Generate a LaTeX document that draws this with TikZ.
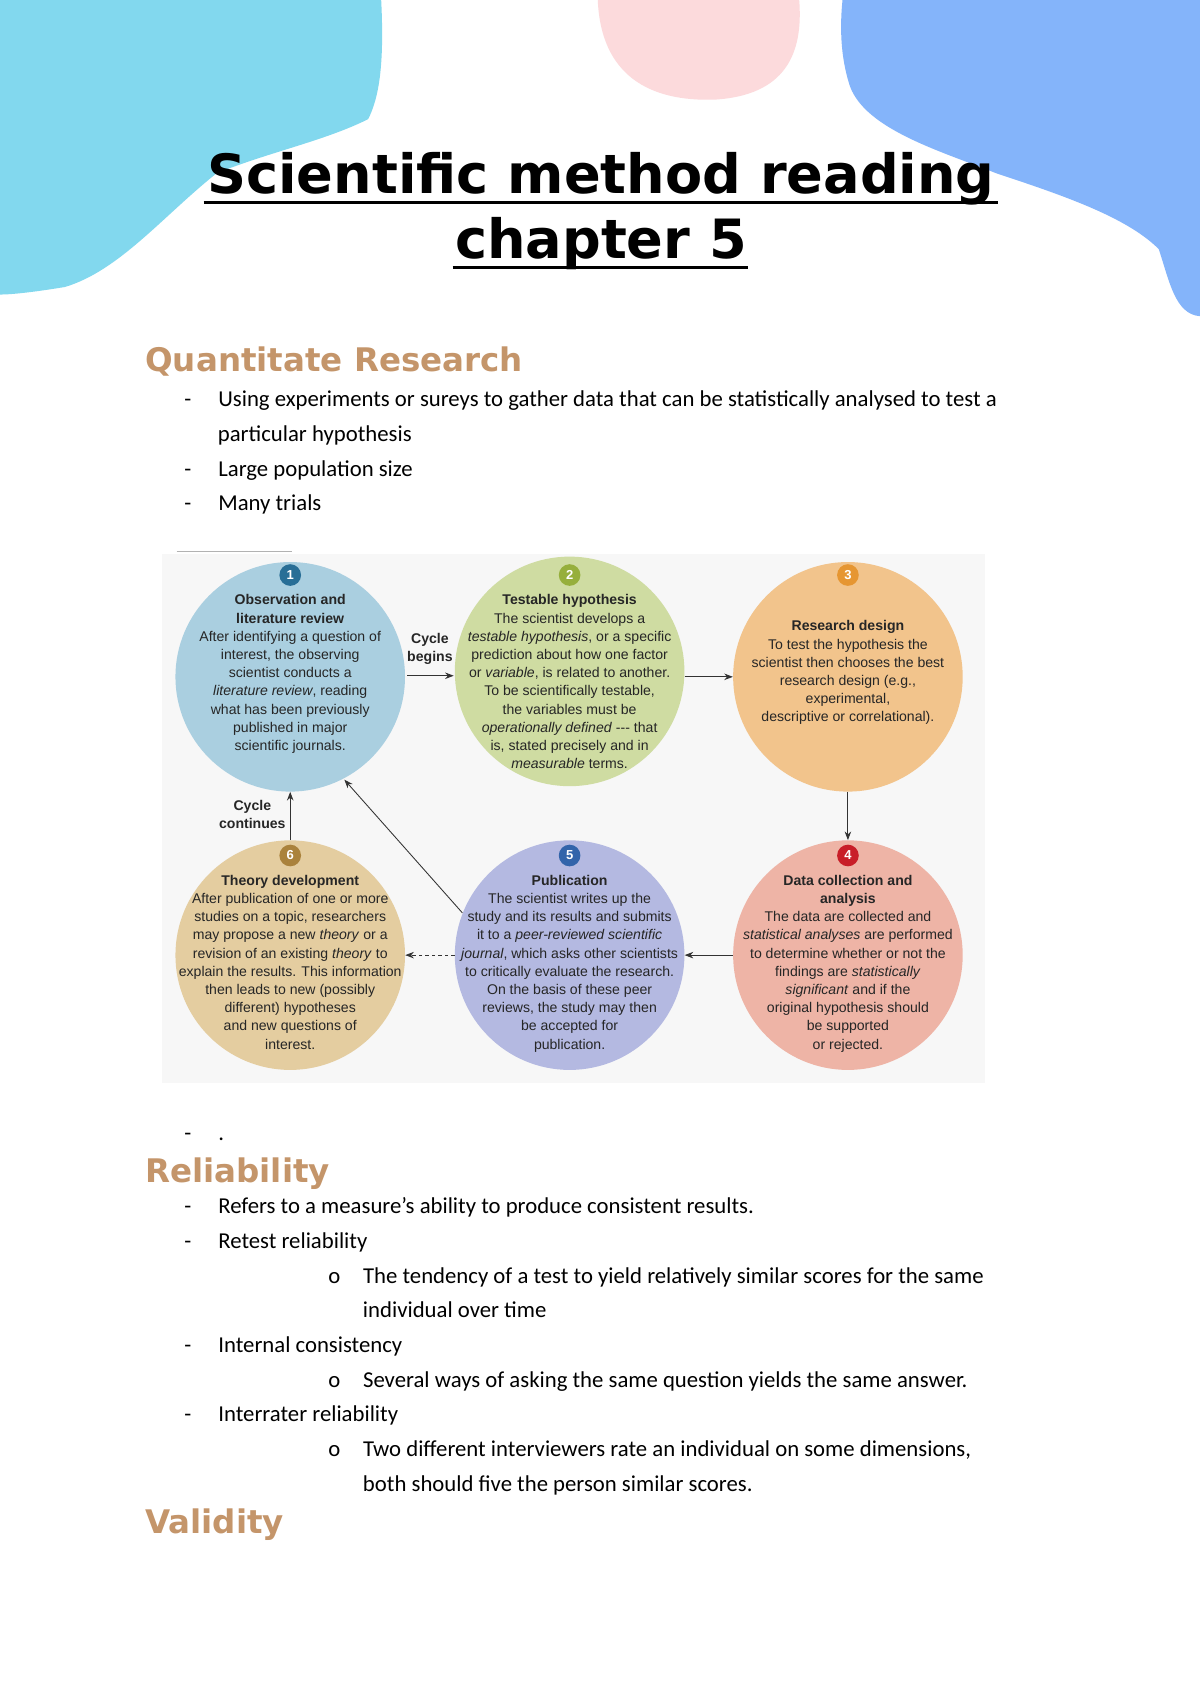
\documentclass[tikz,border=0pt]{standalone}
\usepackage{fontspec}
\setmainfont{Carlito}
\newfontfamily\hd{DejaVu Sans}
\newfontfamily\ar{Liberation Sans}
\usetikzlibrary{arrows.meta}
\definecolor{hcol}{HTML}{C4956A}
\definecolor{cA}{RGB}{170,207,224}
\definecolor{cB}{RGB}{207,220,162}
\definecolor{cC}{RGB}{242,196,140}
\definecolor{cF}{RGB}{228,205,160}
\definecolor{cE}{RGB}{180,185,225}
\definecolor{cD}{RGB}{238,180,166}
\definecolor{nA}{RGB}{40,110,150}
\definecolor{nB}{RGB}{150,175,60}
\definecolor{nC}{RGB}{230,150,50}
\definecolor{nD}{RGB}{200,30,40}
\definecolor{nE}{RGB}{50,100,170}
\definecolor{nF}{RGB}{170,130,60}
\definecolor{blobA}{RGB}{130,216,238}
\definecolor{blobB}{RGB}{252,218,220}
\definecolor{blobC}{RGB}{132,180,250}
\newcommand{\ulx}[1]{\underline{#1}}
\tikzset{
 circ/.style={circle,minimum size=212pt,inner sep=0pt},
 ctext/.style={align=center,font=\ar\fontsize{13}{16.8}\selectfont,text=black!85,inner sep=0pt},
 num/.style={circle,fill=#1,text=white,font=\ar\bfseries\fontsize{12}{12}\selectfont,minimum size=20pt,inner sep=0pt},
 body/.style={anchor=west,font=\fontsize{21}{32}\selectfont,align=left,inner sep=0pt},
 head/.style={anchor=west,font=\hd\bfseries\fontsize{30}{30}\selectfont,text=hcol,inner sep=0pt},
 arr/.style={-{Stealth[length=8pt]},thick,black!80}
}
\begin{document}
\begin{tikzpicture}[x=1pt,y=-1pt]
\useasboundingbox (0,0) rectangle (1108,1568);
\fill[white] (0,0) rectangle (1108,1568);
% blobs
\fill[blobA] (0,0) -- (352,0) .. controls (355,60) and (350,90) .. (340,110) .. controls (300,130) and (250,140) .. (200,160) .. controls (150,200) and (110,250) .. (60,265) .. controls (30,270) and (10,272) .. (0,272) -- cycle;
\fill[blobB] (552,0) -- (738,0) .. controls (742,50) and (725,88) .. (660,92) .. controls (600,94) and (555,70) .. (552,0) -- cycle;
\fill[blobC] (778,0) -- (1108,0) -- (1108,292) .. controls (1085,290) and (1080,260) .. (1070,230) .. controls (1040,200) and (980,180) .. (920,160) .. controls (870,140) and (800,120) .. (785,80) .. controls (775,50) and (776,20) .. (778,0) -- cycle;
% title
\node[font=\hd\bfseries\fontsize{50}{60}\selectfont,align=center,inner sep=0pt] (title) at (555,195) {Scientific method reading\\chapter 5};
\coordinate (u1) at (188,187); \coordinate (u2) at (922,187);
\coordinate (u3) at (418,247); \coordinate (u4) at (691,247);
\draw[line width=2.5pt] (u1) -- (u2) (u3) -- (u4);
\node[head] (h1) at (134,334) {Quantitate Research};
\node[body] (b1) at (170,418) {-\hspace{25pt}Using experiments or sureys to gather data that can be statistically analysed to test a\\\hspace{31pt}particular hypothesis\\-\hspace{25pt}Large population size\\-\hspace{25pt}Many trials};
\draw[gray!60] (163,509) -- (270,509);
% diagram
\fill[black!3] (150,512) rectangle (910,1000);
\node[circ,fill=cA] (c1) at (268,625) {};
\node[circ,fill=cB] (c2) at (526,620) {};
\node[circ,fill=cC] (c3) at (783,625) {};
\node[circ,fill=cF] (c6) at (268,882) {};
\node[circ,fill=cE] (c5) at (526,882) {};
\node[circ,fill=cD] (c4) at (783,882) {};
\node[num=nA] (n1) at (268,531) {1};
\node[num=nB] (n2) at (526,531) {2};
\node[num=nC] (n3) at (783,531) {3};
\node[num=nD] (n4) at (783,790) {4};
\node[num=nE] (n5) at (526,790) {5};
\node[num=nF] (n6) at (268,790) {6};
\node[ctext,anchor=north] (t1) at (268,549) {\textbf{Observation and}\\\textbf{literature review}\\After identifying a question of\\interest, the observing\\scientist conducts a\\\textit{literature review}, reading\\what has been previously\\published in major\\scientific journals.};
\node[ctext,anchor=north] (t2) at (526,549) {\textbf{Testable hypothesis}\\The scientist develops a\\\textit{testable hypothesis}, or a specific\\prediction about how one factor\\or \textit{variable}, is related to another.\\To be scientifically testable,\\the variables must be\\\textit{operationally defined} --- that\\is, stated precisely and in\\\textit{measurable} terms.};
\node[ctext,anchor=north] (t3) at (783,573) {\textbf{Research design}\\To test the hypothesis the\\scientist then chooses the best\\research design (e.g.,\\experimental,\\descriptive or correlational).};
\node[ctext,anchor=north] (t6) at (268,808) {\textbf{Theory development}\\After publication of one or more\\studies on a topic, researchers\\may propose a new \textit{theory} or a\\revision of an existing \textit{theory} to\\explain the results. This information\\then leads to new (possibly\\different) hypotheses\\and new questions of\\interest.};
\node[ctext,anchor=north] (t5) at (526,808) {\textbf{Publication}\\The scientist writes up the\\study and its results and submits\\it to a \textit{peer-reviewed scientific}\\\textit{journal}, which asks other scientists\\to critically evaluate the research.\\On the basis of these peer\\reviews, the study may then\\be accepted for\\publication.};
\node[ctext,anchor=north] (t4) at (783,808) {\textbf{Data collection and}\\\textbf{analysis}\\The data are collected and\\\textit{statistical analyses} are performed\\to determine whether or not the\\findings are \textit{statistically}\\\textit{significant} and if the\\original hypothesis should\\be supported\\or rejected.};
\node[ctext,font=\ar\bfseries\fontsize{13}{16.8}\selectfont] (cb) at (397,599) {Cycle\\begins};
\node[ctext,font=\ar\bfseries\fontsize{13}{16.8}\selectfont] (cc) at (233,752) {Cycle\\continues};
\coordinate (a1) at (376,624); \coordinate (a2) at (419,624);
\draw[arr] (a1) -- (a2);
\draw[arr] (c2.east |- c3.west) -- (c3.west);
\draw[arr] (c3.south) -- (c4.north);
\draw[arr] (c4.west) -- (c5.east);
\draw[arr,dashed] (c5.west) -- (c6.east);
\draw[arr] (c6.north) -- (c1.south);
\coordinate (d1) at (427,843); \coordinate (d2) at (318,720);
\draw[arr] (d1) -- (d2);
% reliability
\node[body] (b2) at (170,1050) {-\hspace{25pt}.};
\node[head] (h2) at (134,1084) {Reliability};
\node[body,anchor=north west] (b3) at (170,1106) {-\hspace{25pt}Refers to a measure’s ability to produce consistent results.\\-\hspace{25pt}Retest reliability\\\hspace{133pt}o\hspace{21pt}The tendency of a test to yield relatively similar scores for the same\\\hspace{165pt}individual over time\\-\hspace{25pt}Internal consistency\\\hspace{133pt}o\hspace{21pt}Several ways of asking the same question yields the same answer.\\-\hspace{25pt}Interrater reliability\\\hspace{133pt}o\hspace{21pt}Two different interviewers rate an individual on some dimensions,\\\hspace{165pt}both should five the person similar scores.};
\node[head] (h3) at (134,1408) {Validity};
\end{tikzpicture}
\end{document}
